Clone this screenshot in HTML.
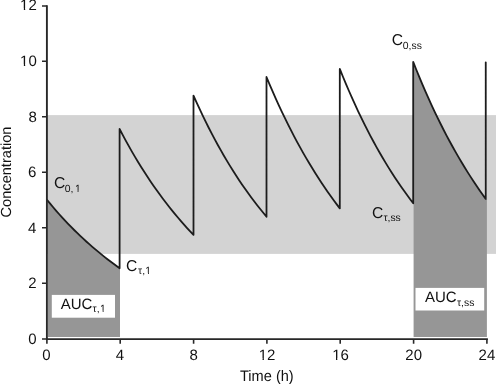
<!DOCTYPE html>
<html><head><meta charset="utf-8">
<style>
html,body{margin:0;padding:0;background:#fff;width:496px;height:384px;overflow:hidden}
svg{display:block}
text{font-family:"Liberation Sans",Arial,sans-serif;fill:#111;text-rendering:geometricPrecision}
</style></head><body>
<svg width="496" height="384" viewBox="0 0 496 384">
<rect x="0" y="0" width="496" height="384" fill="#fff"/>
<rect x="47" y="115.1" width="449" height="138.8" fill="#d3d3d3"/>
<path d="M47.90,337.10 L47.90,199.70 L49.93,203.42 L52.96,207.04 L55.99,210.57 L59.02,214.01 L62.05,217.37 L65.07,220.64 L68.10,223.84 L71.13,226.95 L74.16,230.00 L77.19,232.97 L80.22,235.87 L83.25,238.70 L86.28,241.47 L89.31,244.17 L92.34,246.82 L95.37,249.40 L98.40,251.93 L101.42,254.41 L104.45,256.83 L107.48,259.20 L110.51,261.52 L113.54,263.79 L116.57,266.02 L119.60,268.20 L120.00,268.20 L120.00,337.10 Z" fill="#969696"/>
<path d="M413.60,337.10 L413.60,61.90 L416.22,69.51 L419.25,76.91 L422.27,84.11 L425.29,91.13 L428.31,97.95 L431.34,104.60 L434.36,111.07 L437.38,117.37 L440.41,123.51 L443.43,129.48 L446.45,135.31 L449.48,140.98 L452.50,146.51 L455.52,151.89 L458.54,157.14 L461.57,162.26 L464.59,167.25 L467.61,172.11 L470.64,176.86 L473.66,181.48 L476.68,186.00 L479.70,190.40 L482.73,194.70 L485.75,198.90 L486.90,198.90 L486.90,337.10 Z" fill="#969696"/>
<rect x="51.8" y="294.9" width="63.2" height="22.8" fill="#fff"/>
<rect x="415.5" y="287.9" width="68.7" height="22.6" fill="#fff"/>
<path d="M46.90,199.70 L49.93,203.42 L52.96,207.04 L55.99,210.57 L59.02,214.01 L62.05,217.37 L65.07,220.64 L68.10,223.84 L71.13,226.95 L74.16,230.00 L77.19,232.97 L80.22,235.87 L83.25,238.70 L86.28,241.47 L89.31,244.17 L92.34,246.82 L95.37,249.40 L98.40,251.93 L101.42,254.41 L104.45,256.83 L107.48,259.20 L110.51,261.52 L113.54,263.79 L116.57,266.02 L119.60,268.20 L119.60,129.00 L122.68,134.88 L125.76,140.60 L128.84,146.16 L131.92,151.58 L135.00,156.85 L138.07,161.98 L141.15,166.97 L144.23,171.83 L147.31,176.57 L150.39,181.18 L153.47,185.68 L156.55,190.06 L159.63,194.33 L162.71,198.49 L165.79,202.54 L168.87,206.50 L171.95,210.36 L175.03,214.12 L178.10,217.79 L181.18,221.38 L184.26,224.88 L187.34,228.30 L190.42,231.64 L193.50,234.90 L193.50,95.60 L196.54,102.39 L199.58,108.99 L202.62,115.41 L205.67,121.65 L208.71,127.73 L211.75,133.63 L214.79,139.38 L217.83,144.97 L220.88,150.42 L223.92,155.71 L226.96,160.86 L230.00,165.88 L233.04,170.76 L236.08,175.51 L239.12,180.14 L242.17,184.64 L245.21,189.03 L248.25,193.30 L251.29,197.46 L254.33,201.51 L257.38,205.45 L260.42,209.30 L263.46,213.05 L266.50,216.70 L266.50,77.00 L269.55,84.30 L272.61,91.41 L275.66,98.32 L278.72,105.04 L281.77,111.59 L284.82,117.96 L287.88,124.17 L290.93,130.21 L293.99,136.09 L297.04,141.82 L300.10,147.40 L303.15,152.83 L306.20,158.13 L309.26,163.29 L312.31,168.32 L315.37,173.23 L318.42,178.01 L321.48,182.68 L324.53,187.23 L327.58,191.67 L330.64,196.00 L333.69,200.24 L336.75,204.37 L339.80,208.40 L339.80,68.90 L342.86,76.47 L345.92,83.82 L348.98,90.98 L352.03,97.93 L355.09,104.69 L358.15,111.27 L361.21,117.66 L364.27,123.88 L367.32,129.93 L370.38,135.81 L373.44,141.53 L376.50,147.09 L379.56,152.50 L382.62,157.77 L385.68,162.89 L388.73,167.87 L391.79,172.72 L394.85,177.44 L397.91,182.03 L400.97,186.49 L404.02,190.84 L407.08,195.07 L410.14,199.19 L413.20,203.20 L413.20,61.90 L416.22,69.51 L419.25,76.91 L422.27,84.11 L425.29,91.13 L428.31,97.95 L431.34,104.60 L434.36,111.07 L437.38,117.37 L440.41,123.51 L443.43,129.48 L446.45,135.31 L449.48,140.98 L452.50,146.51 L455.52,151.89 L458.54,157.14 L461.57,162.26 L464.59,167.25 L467.61,172.11 L470.64,176.86 L473.66,181.48 L476.68,186.00 L479.70,190.40 L482.73,194.70 L485.75,198.90 L485.75,62.30" fill="none" stroke="#1c1c1c" stroke-width="1.8" stroke-linejoin="round" stroke-linecap="round"/>
<g stroke="#282828" fill="none">
<path d="M46.9,5.3 V339.1 H487.9" stroke-width="1.9"/>
<path d="M42,6.0 H46.9 M42,61.3 H46.9 M42,116.8 H46.9 M42,172.3 H46.9 M42,227.8 H46.9 M42,283.3 H46.9 M42,338.9 H46.9" stroke-width="1.5"/>
<path d="M46.9,339 V343.7 M120.2,339 V343.7 M193.6,339 V343.7 M266.9,339 V343.7 M340.2,339 V343.7 M413.6,339 V343.7 M486.9,339 V343.7" stroke-width="1.6"/>
</g>
<text x="36.76" y="10.00" text-anchor="end" style="font-size:15.00px">12</text>
<text x="36.77" y="66.00" text-anchor="end" style="font-size:15.00px">10</text>
<text x="36.72" y="122.00" text-anchor="end" style="font-size:15.00px">8</text>
<text x="36.41" y="177.00" text-anchor="end" style="font-size:15.00px">6</text>
<text x="36.36" y="233.00" text-anchor="end" style="font-size:15.00px">4</text>
<text x="36.63" y="288.00" text-anchor="end" style="font-size:15.00px">2</text>
<text x="36.65" y="344.00" text-anchor="end" style="font-size:15.00px">0</text>
<text x="46.47" y="360.00" text-anchor="middle" style="font-size:15.00px">0</text>
<text x="119.90" y="360.00" text-anchor="middle" style="font-size:15.00px">4</text>
<text x="193.66" y="360.00" text-anchor="middle" style="font-size:15.00px">8</text>
<text x="267.12" y="360.00" text-anchor="middle" style="font-size:15.00px">12</text>
<text x="340.55" y="360.00" text-anchor="middle" style="font-size:15.00px">16</text>
<text x="413.67" y="360.00" text-anchor="middle" style="font-size:15.00px">20</text>
<text x="486.90" y="360.00" text-anchor="middle" style="font-size:15.00px">24</text>
<text x="266.84" y="381.00" text-anchor="middle" transform="matrix(1 0 0 1.0400 0 -15.240)" style="font-size:14.60px">Time (h)</text>
<text x="53.93" y="188.00" style="font-size:15.60px">C</text>
<text x="64.79" y="192.00" dx="0 0 1.5" style="font-size:10.40px">0,1</text>
<text x="126.08" y="271.00" style="font-size:15.60px">C</text>
<text x="138.07" y="274.00" dx="0 0 0.3" style="font-size:10.40px">τ,1</text>
<text x="372.05" y="218.00" style="font-size:15.60px">C</text>
<text x="383.41" y="221.00" style="font-size:10.40px">τ,ss</text>
<text x="391.63" y="45.00" style="font-size:15.60px">C</text>
<text x="402.82" y="49.00" style="font-size:10.40px">0,ss</text>
<text x="60.77" y="309.00" style="font-size:15.00px">AUC</text>
<text x="92.55" y="312.00" dx="0 0 0.5" style="font-size:10.40px">τ,1</text>
<text x="425.04" y="302.00" style="font-size:15.00px">AUC</text>
<text x="457.02" y="306.00" style="font-size:10.40px">τ,ss</text>
<text text-anchor="middle" transform="translate(10.9,172) rotate(-90)" style="font-size:14.6px">Concentration</text>
<g id="footmask"><rect x="20.22" y="8.43" width="3.63" height="1.62" fill="#fff"/><rect x="25.17" y="8.43" width="3.51" height="1.62" fill="#fff"/><rect x="20.23" y="64.43" width="3.63" height="1.62" fill="#fff"/><rect x="25.18" y="64.43" width="3.51" height="1.62" fill="#fff"/><rect x="258.92" y="358.43" width="3.63" height="1.62" fill="#fff"/><rect x="263.87" y="358.43" width="3.51" height="1.62" fill="#fff"/><rect x="332.35" y="358.43" width="3.63" height="1.62" fill="#fff"/><rect x="337.30" y="358.43" width="3.51" height="1.62" fill="#fff"/><rect x="74.75" y="190.77" width="2.82" height="1.28" fill="#d3d3d3"/><rect x="78.50" y="190.77" width="2.74" height="1.28" fill="#d3d3d3"/><rect x="145.16" y="272.77" width="2.82" height="1.28" fill="#fff"/><rect x="148.90" y="272.77" width="2.74" height="1.28" fill="#fff"/><rect x="99.84" y="310.77" width="2.82" height="1.28" fill="#fff"/><rect x="103.58" y="310.77" width="2.74" height="1.28" fill="#fff"/></g>
</svg>
</body></html>
